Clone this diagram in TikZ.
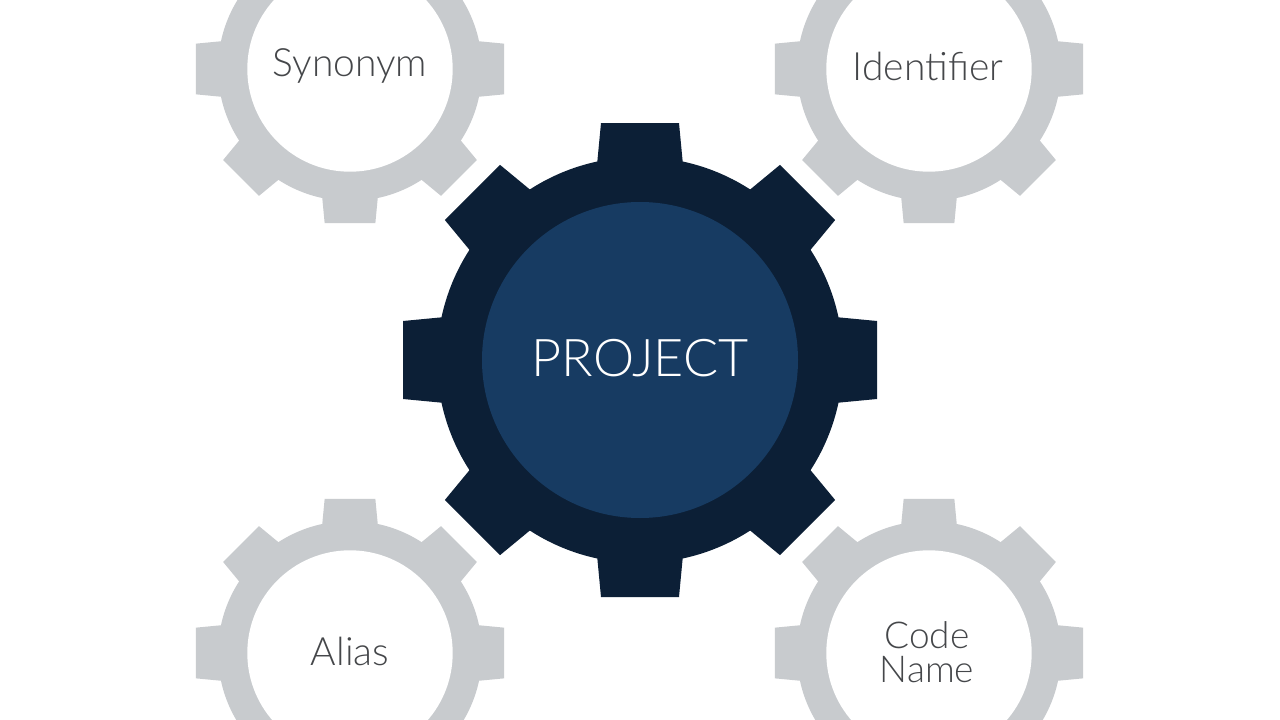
\documentclass[tikz,border=0pt]{standalone}
\usepackage{fontspec}
\setmainfont{Lato Light}
\definecolor{navy}{HTML}{0C1F36}
\definecolor{innerblue}{HTML}{173B62}
\definecolor{geargray}{HTML}{C8CBCE}
\definecolor{txtgray}{HTML}{45474A}
\newcommand\mygear[5]{% x, y, scale, gear colour, hole colour
  \begin{scope}[shift={(#1,#2)},scale=#3]
    \fill[#4] (0,0) circle (203);
    \foreach \a in {0,45,...,315}{
      \fill[#4,rotate=\a] (195,-43) -- (237,-39) -- (237,39) -- (195,43) -- cycle;
    }
    \fill[#5] (0,0) circle (158);
  \end{scope}}
\tikzset{
  small/.style={text=txtgray,font=\fontsize{39}{36}\selectfont,align=center,inner sep=0pt},
  big/.style={text=white,font=\fontsize{52}{60}\selectfont,inner sep=0pt}
}
\begin{document}
\begin{tikzpicture}[x=1pt,y=-1pt]
  \fill[white] (0,0) rectangle (1280,720);
  \useasboundingbox (0,0) rectangle (1280,720);
  \mygear{350}{69}{0.65}{geargray}{white}
  \mygear{929}{69}{0.65}{geargray}{white}
  \mygear{350}{653}{0.65}{geargray}{white}
  \mygear{929}{653}{0.65}{geargray}{white}
  \mygear{640}{360}{1}{navy}{innerblue}
  \node[big] (proj) at (640,358) {PROJECT};
  \node[small] (syn) at (350,66) {Synonym};
  \node[small] (ident) at (928,66) {Identifier};
  \node[small] (alias) at (350,651) {Alias};
  \node[small,font=\fontsize{37}{34}\selectfont] (code) at (927,652) {Code\\Name};
\end{tikzpicture}
\end{document}
